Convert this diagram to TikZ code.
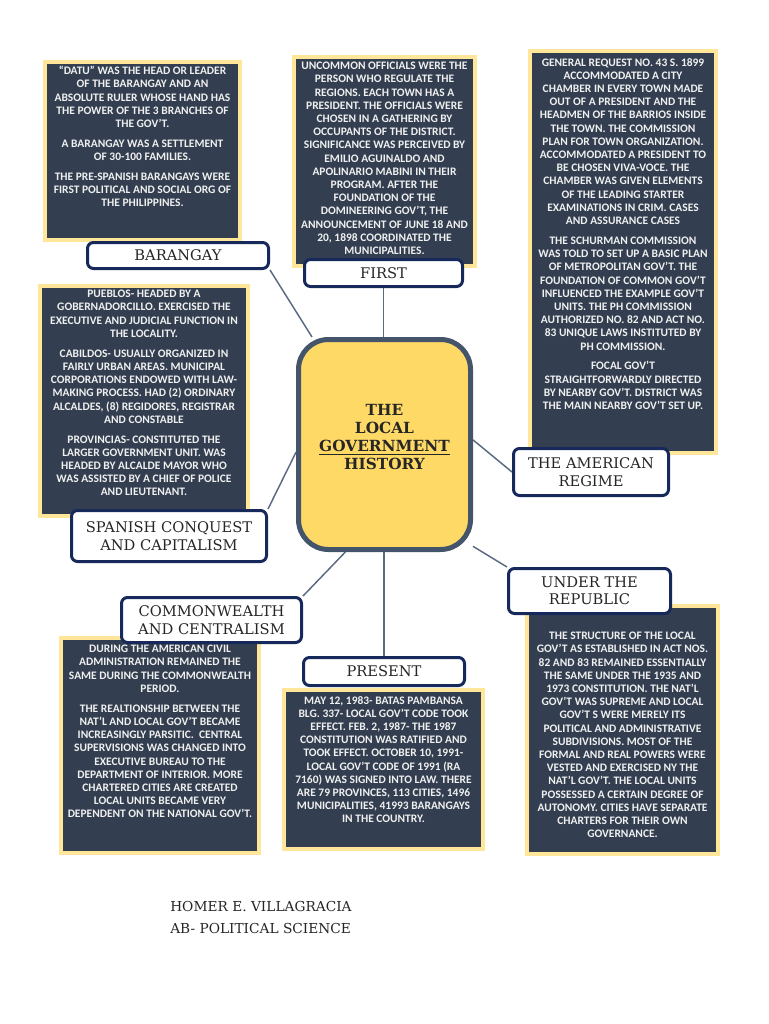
\documentclass[tikz,border=0pt]{standalone}
\usepackage{fontspec}
\setmainfont{Carlito}
\newfontfamily\slabfont{DejaVu Serif}
\usetikzlibrary{backgrounds}
\definecolor{boxdark}{HTML}{333F50}
\definecolor{boxrim}{HTML}{FFE699}
\definecolor{coregold}{HTML}{FFD966}
\definecolor{coreslate}{HTML}{44546A}
\definecolor{tagnavy}{HTML}{16295A}
\definecolor{linkgray}{HTML}{5A6A80}
\definecolor{inkdark}{HTML}{262626}
\begin{document}
\begin{tikzpicture}[x=.75pt,y=-.75pt,line join=round,line cap=round,
	infobox/.style={fill=boxdark,draw=boxrim,line width=3pt,line join=miter},
	infotext/.style={anchor=north,align=center,inner sep=0pt,text=white!94!black,font=\fontsize{8.6}{9.9}\selectfont\bfseries},
	tag/.style={draw=tagnavy,line width=2.25pt,fill=white,rounded corners=4.5pt,align=center,inner sep=0pt,text=inkdark,font=\slabfont\fontsize{11}{13}\selectfont},
	link/.style={draw=linkgray,line width=1.1pt}]
	\useasboundingbox (0,0) rectangle (768,1024);
	\draw[infobox] (45,62) rectangle (240,240);
	\draw[infobox] (294,57) rectangle (475,266);
	\draw[infobox] (530,51) rectangle (716,453);
	\draw[infobox] (40,286) rectangle (248,516);
	\draw[infobox] (61,638) rectangle (259,853);
	\draw[infobox] (284,690) rectangle (483,849);
	\draw[infobox] (527,606) rectangle (718,854);
	\node[infotext] (barangaytxt) at (142.5,66) {``DATU'' WAS THE HEAD OR LEADER\\OF THE BARANGAY AND AN\\ABSOLUTE RULER WHOSE HAND HAS\\THE POWER OF THE 3 BRANCHES OF\\THE GOV'T.\\[5pt]A BARANGAY WAS A SETTLEMENT\\OF 30-100 FAMILIES.\\[5pt]THE PRE-SPANISH BARANGAYS WERE\\FIRST POLITICAL AND SOCIAL ORG OF\\THE PHILIPPINES.};
	\node[infotext] (firsttxt) at (384.5,62) {UNCOMMON OFFICIALS WERE THE\\PERSON WHO REGULATE THE\\REGIONS. EACH TOWN HAS A\\PRESIDENT. THE OFFICIALS WERE\\CHOSEN IN A GATHERING BY\\OCCUPANTS OF THE DISTRICT.\\SIGNIFICANCE WAS PERCEIVED BY\\EMILIO AGUINALDO AND\\APOLINARIO MABINI IN THEIR\\PROGRAM. AFTER THE\\FOUNDATION OF THE\\DOMINEERING GOV'T, THE\\ANNOUNCEMENT OF JUNE 18 AND\\20, 1898 COORDINATED THE\\MUNICIPALITIES.};
	\node[infotext] (americantxt) at (623,58) {GENERAL REQUEST NO. 43 S. 1899\\ACCOMMODATED A CITY\\CHAMBER IN EVERY TOWN MADE\\OUT OF A PRESIDENT AND THE\\HEADMEN OF THE BARRIOS INSIDE\\THE TOWN. THE COMMISSION\\PLAN FOR TOWN ORGANIZATION.\\ACCOMMODATED A PRESIDENT TO\\BE CHOSEN VIVA-VOCE. THE\\CHAMBER WAS GIVEN ELEMENTS\\OF THE LEADING STARTER\\EXAMINATIONS IN CRIM. CASES\\AND ASSURANCE CASES\\[5pt]THE SCHURMAN COMMISSION\\WAS TOLD TO SET UP A BASIC PLAN\\OF METROPOLITAN GOV'T. THE\\FOUNDATION OF COMMON GOV'T\\INFLUENCED THE EXAMPLE GOV'T\\UNITS. THE PH COMMISSION\\AUTHORIZED NO. 82 AND ACT NO.\\83 UNIQUE LAWS INSTITUTED BY\\PH COMMISSION.\\[5pt]FOCAL GOV'T\\STRAIGHTFORWARDLY DIRECTED\\BY NEARBY GOV'T. DISTRICT WAS\\THE MAIN NEARBY GOV'T SET UP.};
	\node[infotext] (spanishtxt) at (144,290) {PUEBLOS- HEADED BY A\\GOBERNADORCILLO. EXERCISED THE\\EXECUTIVE AND JUDICIAL FUNCTION IN\\THE LOCALITY.\\[5pt]CABILDOS- USUALLY ORGANIZED IN\\FAIRLY URBAN AREAS. MUNICIPAL\\CORPORATIONS ENDOWED WITH LAW-\\MAKING PROCESS. HAD (2) ORDINARY\\ALCALDES, (8) REGIDORES, REGISTRAR\\AND CONSTABLE\\[5pt]PROVINCIAS- CONSTITUTED THE\\LARGER GOVERNMENT UNIT. WAS\\HEADED BY ALCALDE MAYOR WHO\\WAS ASSISTED BY A CHIEF OF POLICE\\AND LIEUTENANT.};
	\node[infotext] (commonwealthtxt) at (160,645) {DURING THE AMERICAN CIVIL\\ADMINISTRATION REMAINED THE\\SAME DURING THE COMMONWEALTH\\PERIOD.\\[5pt]THE REALTIONSHIP BETWEEN THE\\NAT'L AND LOCAL GOV'T BECAME\\INCREASINGLY PARSITIC.~~CENTRAL\\SUPERVISIONS WAS CHANGED INTO\\EXECUTIVE BUREAU TO THE\\DEPARTMENT OF INTERIOR. MORE\\CHARTERED CITIES ARE CREATED\\LOCAL UNITS BECAME VERY\\DEPENDENT ON THE NATIONAL GOV'T.};
	\node[infotext] (presenttxt) at (383.5,696) {MAY 12, 1983- BATAS PAMBANSA\\BLG. 337- LOCAL GOV'T CODE TOOK\\EFFECT. FEB. 2, 1987- THE 1987\\CONSTITUTION WAS RATIFIED AND\\TOOK EFFECT. OCTOBER 10, 1991-\\LOCAL GOV'T CODE OF 1991 (RA\\7160) WAS SIGNED INTO LAW. THERE\\ARE 79 PROVINCES, 113 CITIES, 1496\\MUNICIPALITIES, 41993 BARANGAYS\\IN THE COUNTRY.};
	\node[infotext] (republictxt) at (622.5,632) {THE STRUCTURE OF THE LOCAL\\GOV'T AS ESTABLISHED IN ACT NOS.\\82 AND 83 REMAINED ESSENTIALLY\\THE SAME UNDER THE 1935 AND\\1973 CONSTITUTION. THE NAT'L\\GOV'T WAS SUPREME AND LOCAL\\GOV'T S WERE MERELY ITS\\POLITICAL AND ADMINISTRATIVE\\SUBDIVISIONS. MOST OF THE\\FORMAL AND REAL POWERS WERE\\VESTED AND EXERCISED NY THE\\NAT'L GOV'T. THE LOCAL UNITS\\POSSESSED A CERTAIN DEGREE OF\\AUTONOMY. CITIES HAVE SEPARATE\\CHARTERS FOR THEIR OWN\\GOVERNANCE.};
	\node[tag,minimum width=135.75pt,minimum height=19.5pt] (barangay) at (178,255.5) {BARANGAY};
	\node[tag,minimum width=118.5pt,minimum height=20.25pt] (first) at (383.5,273) {FIRST};
	\node[tag,minimum width=146.25pt,minimum height=38.25pt] (spanish) at (169,536) {SPANISH CONQUEST\\AND CAPITALISM};
	\node[tag,minimum width=116.25pt,minimum height=35.25pt] (american) at (591,472) {THE AMERICAN\\REGIME};
	\node[tag,minimum width=121.5pt,minimum height=33.75pt] (republic) at (589.5,591) {UNDER THE\\REPUBLIC};
	\node[tag,minimum width=135pt,minimum height=33.75pt] (commonwealth) at (211.5,620) {COMMONWEALTH\\AND CENTRALISM};
	\node[tag,minimum width=120.75pt,minimum height=21pt] (present) at (384,671.5) {PRESENT};
	\node[draw=coreslate,line width=3.75pt,fill=coregold,rounded corners=22.5pt,minimum width=129pt,minimum height=157.5pt] (core) at (384.5,444.5) {};
	\node[align=center,inner sep=0pt,text=inkdark,font=\slabfont\bfseries\fontsize{11.5}{13.5}\selectfont] (title) at (384.5,437.5) {THE\\LOCAL\\\underline{GOVERNMENT}\\HISTORY};
	\begin{scope}[on background layer]
		\draw[link] (barangay.south east) -- (core.124);
		\draw[link] (first.south) -- (first.south |- core.north);
		\draw[link] (spanish.north east) -- (core.185);
		\draw[link] (american.west) -- (core.3);
		\draw[link] (republic.north west) -- (core.311);
		\draw[link] (commonwealth.north east) -- (core.250);
		\draw[link] (present.north) -- (present.north |- core.south);
	\end{scope}
	\node[anchor=base west,inner sep=0pt,text=inkdark,font=\slabfont\fontsize{10.3}{12}\selectfont] (author) at (170,911) {HOMER E. VILLAGRACIA};
	\node[anchor=base west,inner sep=0pt,text=inkdark,font=\slabfont\fontsize{10.3}{12}\selectfont] (course) at (170,933) {AB- POLITICAL SCIENCE};
\end{tikzpicture}
\end{document}
